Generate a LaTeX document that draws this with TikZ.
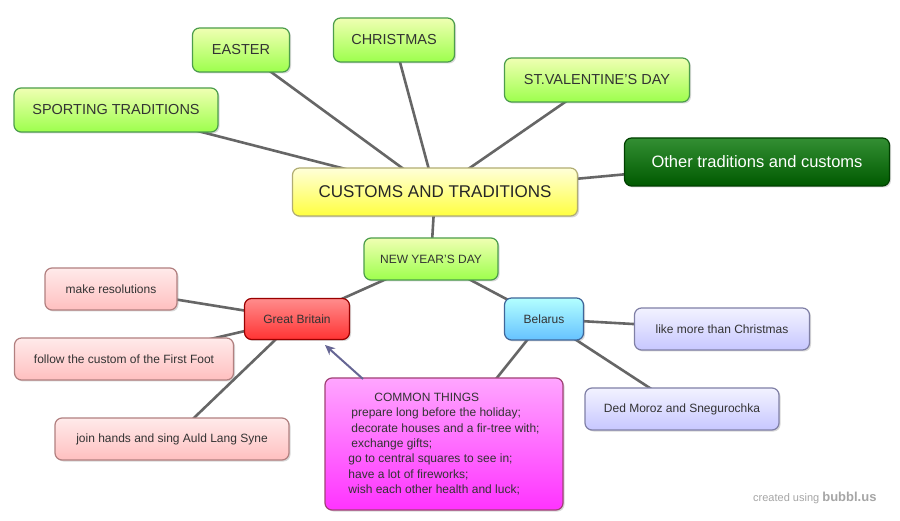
\documentclass[tikz,border=0pt]{standalone}
\usepackage{fontspec}
\setmainfont{Liberation Sans}
\usetikzlibrary{shadows,arrows.meta}
\pgfdeclarelayer{bg}\pgfsetlayers{bg,main}
\begin{document}
\begin{tikzpicture}[x=1pt,y=-1pt,
 box/.style={draw, line width=1.2pt, rounded corners=7pt, inner sep=0pt, anchor=center, align=center, drop shadow={shadow xshift=1.5pt,shadow yshift=-1.5pt,opacity=0.3}},
 grn/.style={box, draw=green!45!black!70, top color=green!20!yellow!30, bottom color=green!55!yellow!70, text=black!80},
 link/.style={draw=black!60, line width=2.6pt}]
\useasboundingbox (0,0) rectangle (900,521);
% nodes
\node[grn, minimum width=97pt, minimum height=44pt, font=\fontsize{14.5}{16}\selectfont] (easter) at (241,50) {EASTER};
\node[grn, minimum width=121pt, minimum height=44pt, font=\fontsize{14.5}{16}\selectfont] (xmas) at (394,40) {CHRISTMAS};
\node[grn, minimum width=204pt, minimum height=44pt, font=\fontsize{14.5}{16}\selectfont] (sport) at (116,110) {SPORTING TRADITIONS};
\node[grn, minimum width=185pt, minimum height=44pt, font=\fontsize{14.5}{16}\selectfont] (val) at (597,80) {ST.VALENTINE'S DAY};
\node[box, draw=yellow!50!black!70, top color=yellow!15, bottom color=yellow!75, text=black!85, minimum width=285pt, minimum height=48pt, font=\fontsize{17}{19}\selectfont] (cust) at (435,192) {CUSTOMS AND TRADITIONS};
\node[box, draw=green!25!black, top color=green!45!black!80, bottom color=green!35!black, text=white, minimum width=265pt, minimum height=48pt, font=\fontsize{16.5}{18}\selectfont] (other) at (757,162) {Other traditions and customs};
\node[grn, minimum width=134pt, minimum height=42pt, font=\fontsize{12}{13}\selectfont] (ny) at (431,259) {NEW YEAR'S DAY};
\node[box, draw=red!60!black, top color=red!45, bottom color=red!80, text=black!80, minimum width=105pt, minimum height=41pt, font=\fontsize{12}{13}\selectfont] (gb) at (297,319) {Great Britain};
\node[box, draw=cyan!50!blue!70!black, top color=cyan!30, bottom color=cyan!60!blue!60, text=black!80, minimum width=79pt, minimum height=42pt, font=\fontsize{12}{13}\selectfont] (by) at (544,319) {Belarus};
\tikzset{pink/.style={box, draw=red!40!black!50, top color=red!8, bottom color=red!25, text=black!80, minimum height=42pt, font=\fontsize{12}{13}\selectfont},
 lav/.style={box, draw=blue!30!black!50, top color=blue!5, bottom color=blue!22, text=black!80, minimum height=42pt, font=\fontsize{12}{13}\selectfont}}
\node[pink, minimum width=132pt] (res) at (111,289) {make resolutions};
\node[pink, minimum width=219pt] (ff) at (124,359) {follow the custom of the First Foot};
\node[pink, minimum width=234pt] (auld) at (172,439) {join hands and sing Auld Lang Syne};
\node[lav, minimum width=175pt] (like) at (722,329) {like more than Christmas};
\node[lav, minimum width=194pt] (ded) at (682,409) {Ded Moroz and Snegurochka};
\node[box, draw=magenta!60!black, top color=magenta!35, bottom color=magenta!80, text=black!80, minimum width=238pt, minimum height=132pt, font=\fontsize{12}{15.3}\selectfont, align=left] (com) at (444,444) {\hspace*{26pt}COMMON THINGS\\
\hspace*{3pt}prepare long before the holiday;\\
\hspace*{3pt}decorate houses and a fir-tree with;\\
\hspace*{3pt}exchange gifts;\\
go to central squares to see in;\\
have a lot of fireworks;\\
wish each other health and luck;};
\node[text=black!35, font=\fontsize{11}{13}\selectfont, anchor=east] (wm) at (880,498) {created using \textbf{\fontsize{13}{15}\selectfont bubbl.us}};
\begin{pgfonlayer}{bg}
\fill[white] (0,0) rectangle (900,521);
\foreach \n in {easter,xmas,sport,val,other,ny} \draw[link] (cust.center) -- (\n.center);
\draw[link] (ny.center) -- (gb.center);
\draw[link] (ny.center) -- (by.center);
\foreach \n in {res,ff,auld} \draw[link] (gb.center) -- (\n.center);
\foreach \n in {like,ded,com} \draw[link] (by.center) -- (\n.center);
\end{pgfonlayer}
\coordinate (ah) at (325,345);
\coordinate (at) at (363,379);
\draw[draw=blue!30!black!60, line width=2pt, -{Stealth[length=10pt,width=9pt]}] (at) -- (ah);
\end{tikzpicture}
\end{document}
